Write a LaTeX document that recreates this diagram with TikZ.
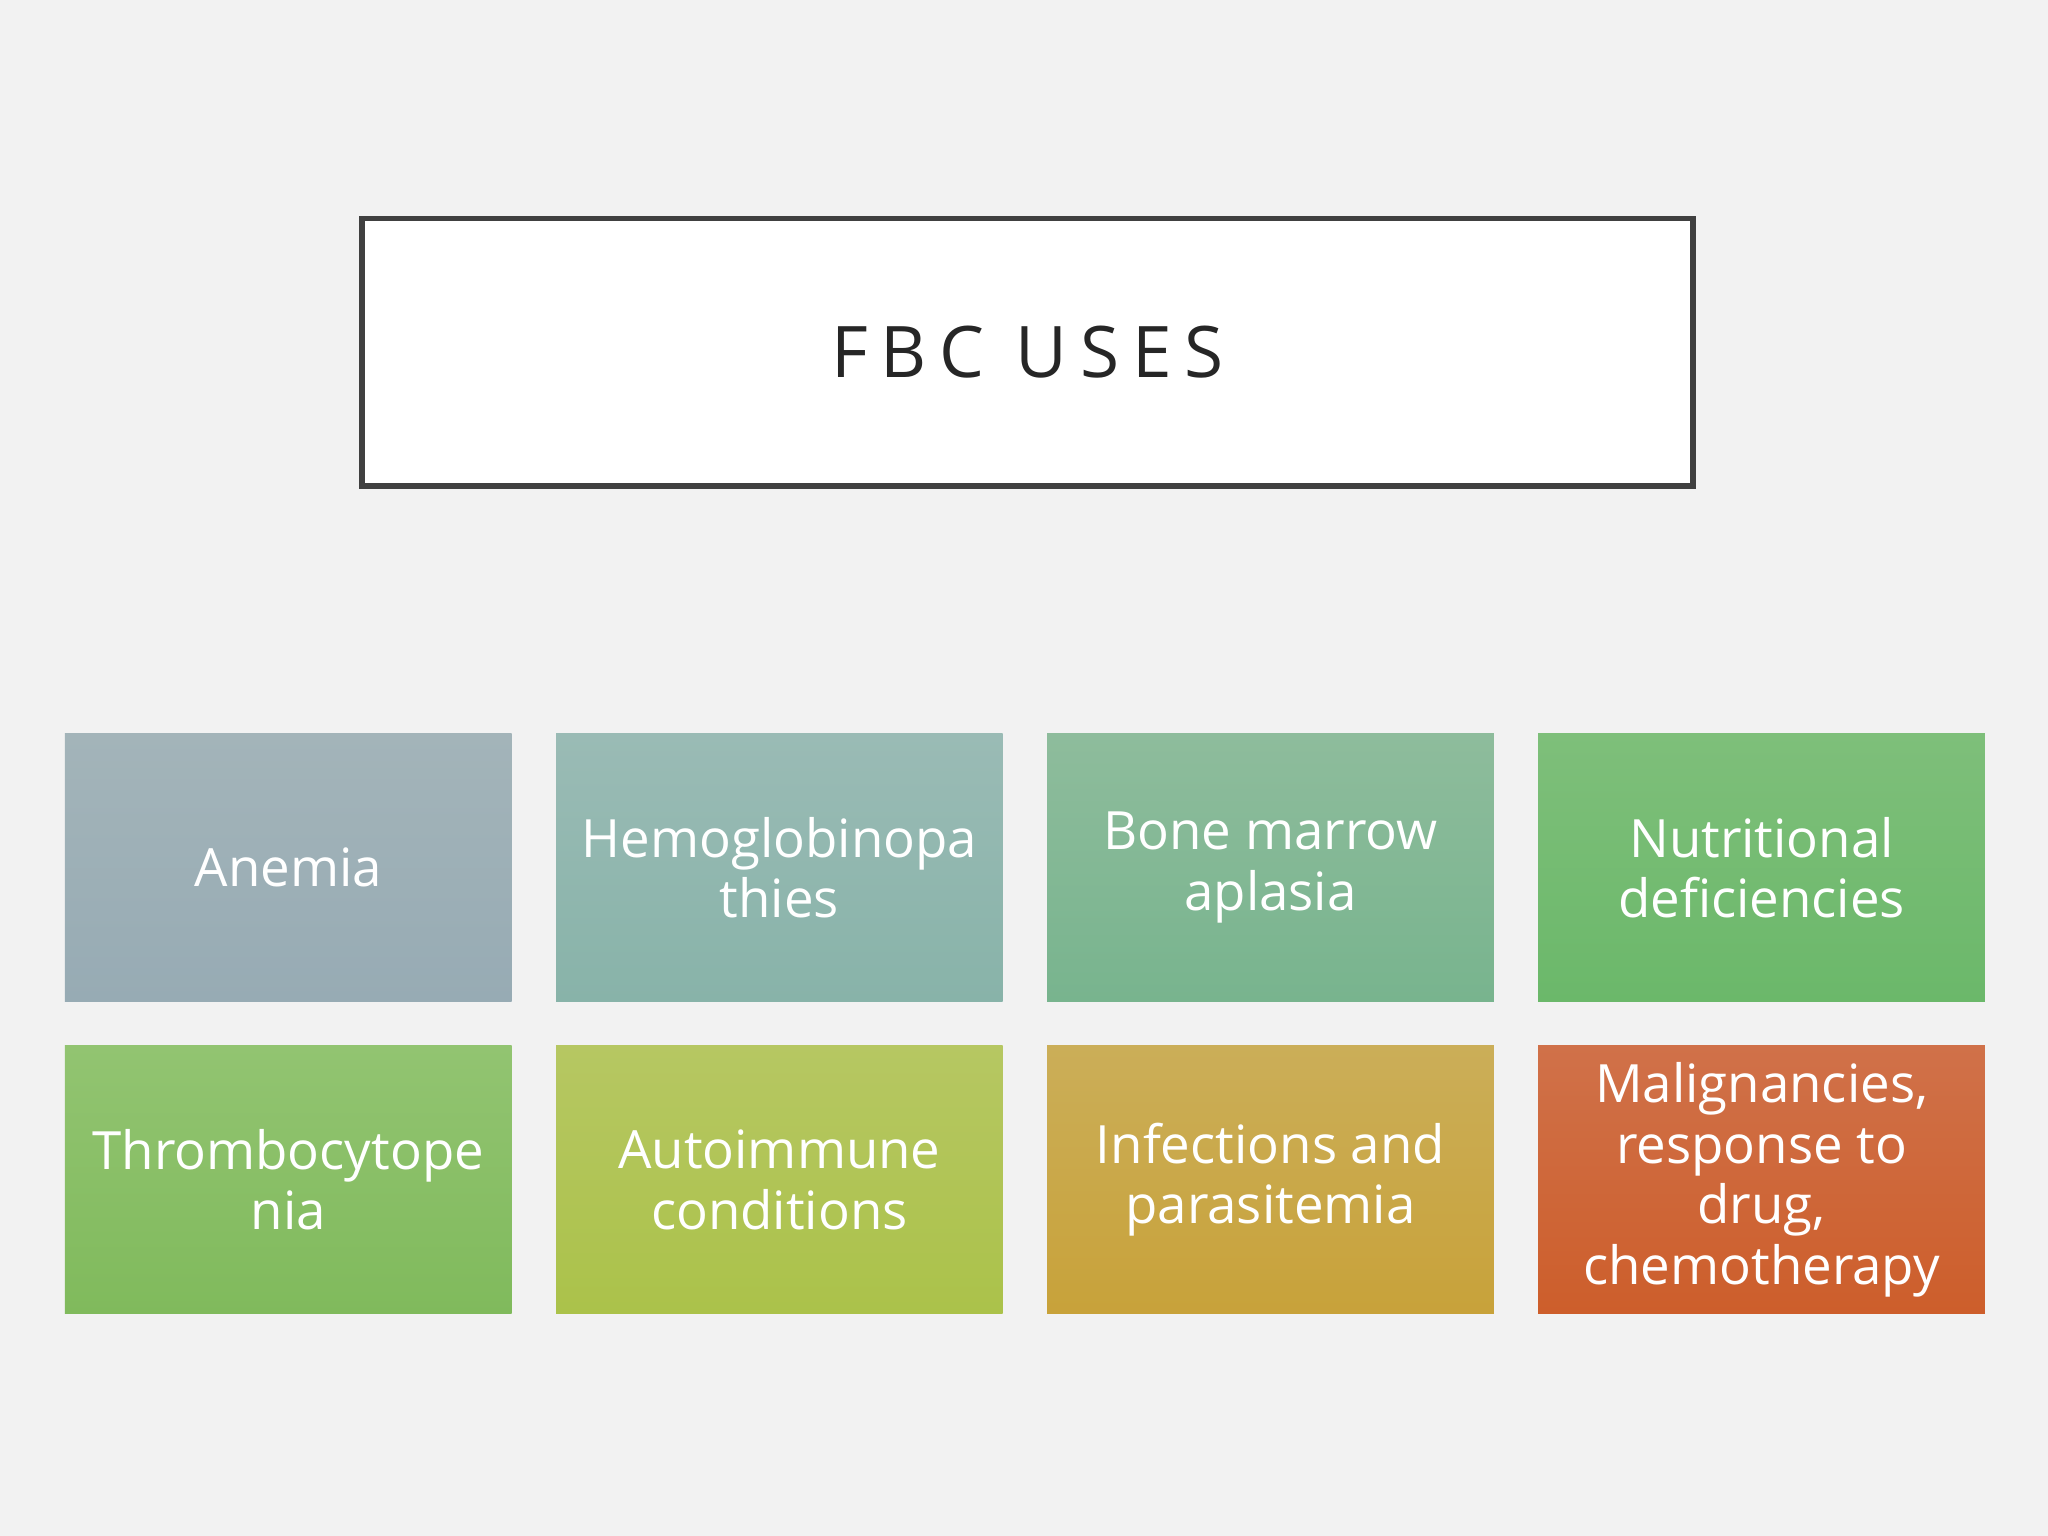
\documentclass[tikz,border=0pt]{standalone}
\usepackage{fontspec}
\setmainfont{Open Sans}
\newfontfamily\titlefont[LetterSpace=18]{Open Sans}
\begin{document}
\begin{tikzpicture}[x=0.1mm,y=-0.1mm,
  cell/.style={minimum width=3.42cm,minimum height=2.05cm,anchor=north west,inner sep=0pt,
    align=center,text=white,font=\fontsize{11.5}{13.2}\selectfont}]
\fill[black!5] (0,0) rectangle (1568,1176);
\node[draw=black!75,line width=1.2pt,fill=white,minimum width=10.19cm,minimum height=2.05cm,anchor=north west,
  font=\titlefont\fontsize{15.5}{18}\selectfont,text=black!85] (title) at (275,165) {FBC USES};
\definecolor{a1}{HTML}{A3B4B9}\definecolor{a2}{HTML}{97ABB4}
\definecolor{b1}{HTML}{9ABBB5}\definecolor{b2}{HTML}{88B3A9}
\definecolor{c1}{HTML}{8EBC9C}\definecolor{c2}{HTML}{78B48E}
\definecolor{d1}{HTML}{7EBF7A}\definecolor{d2}{HTML}{6BB86A}
\definecolor{e1}{HTML}{92C471}\definecolor{e2}{HTML}{80BA5C}
\definecolor{f1}{HTML}{B6C762}\definecolor{f2}{HTML}{ABC24A}
\definecolor{g1}{HTML}{CBAE58}\definecolor{g2}{HTML}{C8A23A}
\definecolor{h1}{HTML}{D07149}\definecolor{h2}{HTML}{CD5E2B}
\node[cell,top color=a1,bottom color=a2] (n1) at (49,561) {Anemia};
\node[cell,top color=b1,bottom color=b2] (n2) at (425,561) {Hemoglobinopa\\thies};
\node[cell,top color=c1,bottom color=c2] (n3) at (801,561) {Bone marrow\\aplasia};
\node[cell,top color=d1,bottom color=d2] (n4) at (1177,561) {Nutritional\\deficiencies};
\node[cell,top color=e1,bottom color=e2] (n5) at (49,800) {Thrombocytope\\nia};
\node[cell,top color=f1,bottom color=f2] (n6) at (425,800) {Autoimmune\\conditions};
\node[cell,top color=g1,bottom color=g2] (n7) at (801,800) {Infections and\\parasitemia};
\node[cell,top color=h1,bottom color=h2] (n8) at (1177,800) {Malignancies,\\response to\\drug,\\chemotherapy};
\end{tikzpicture}
\end{document}
